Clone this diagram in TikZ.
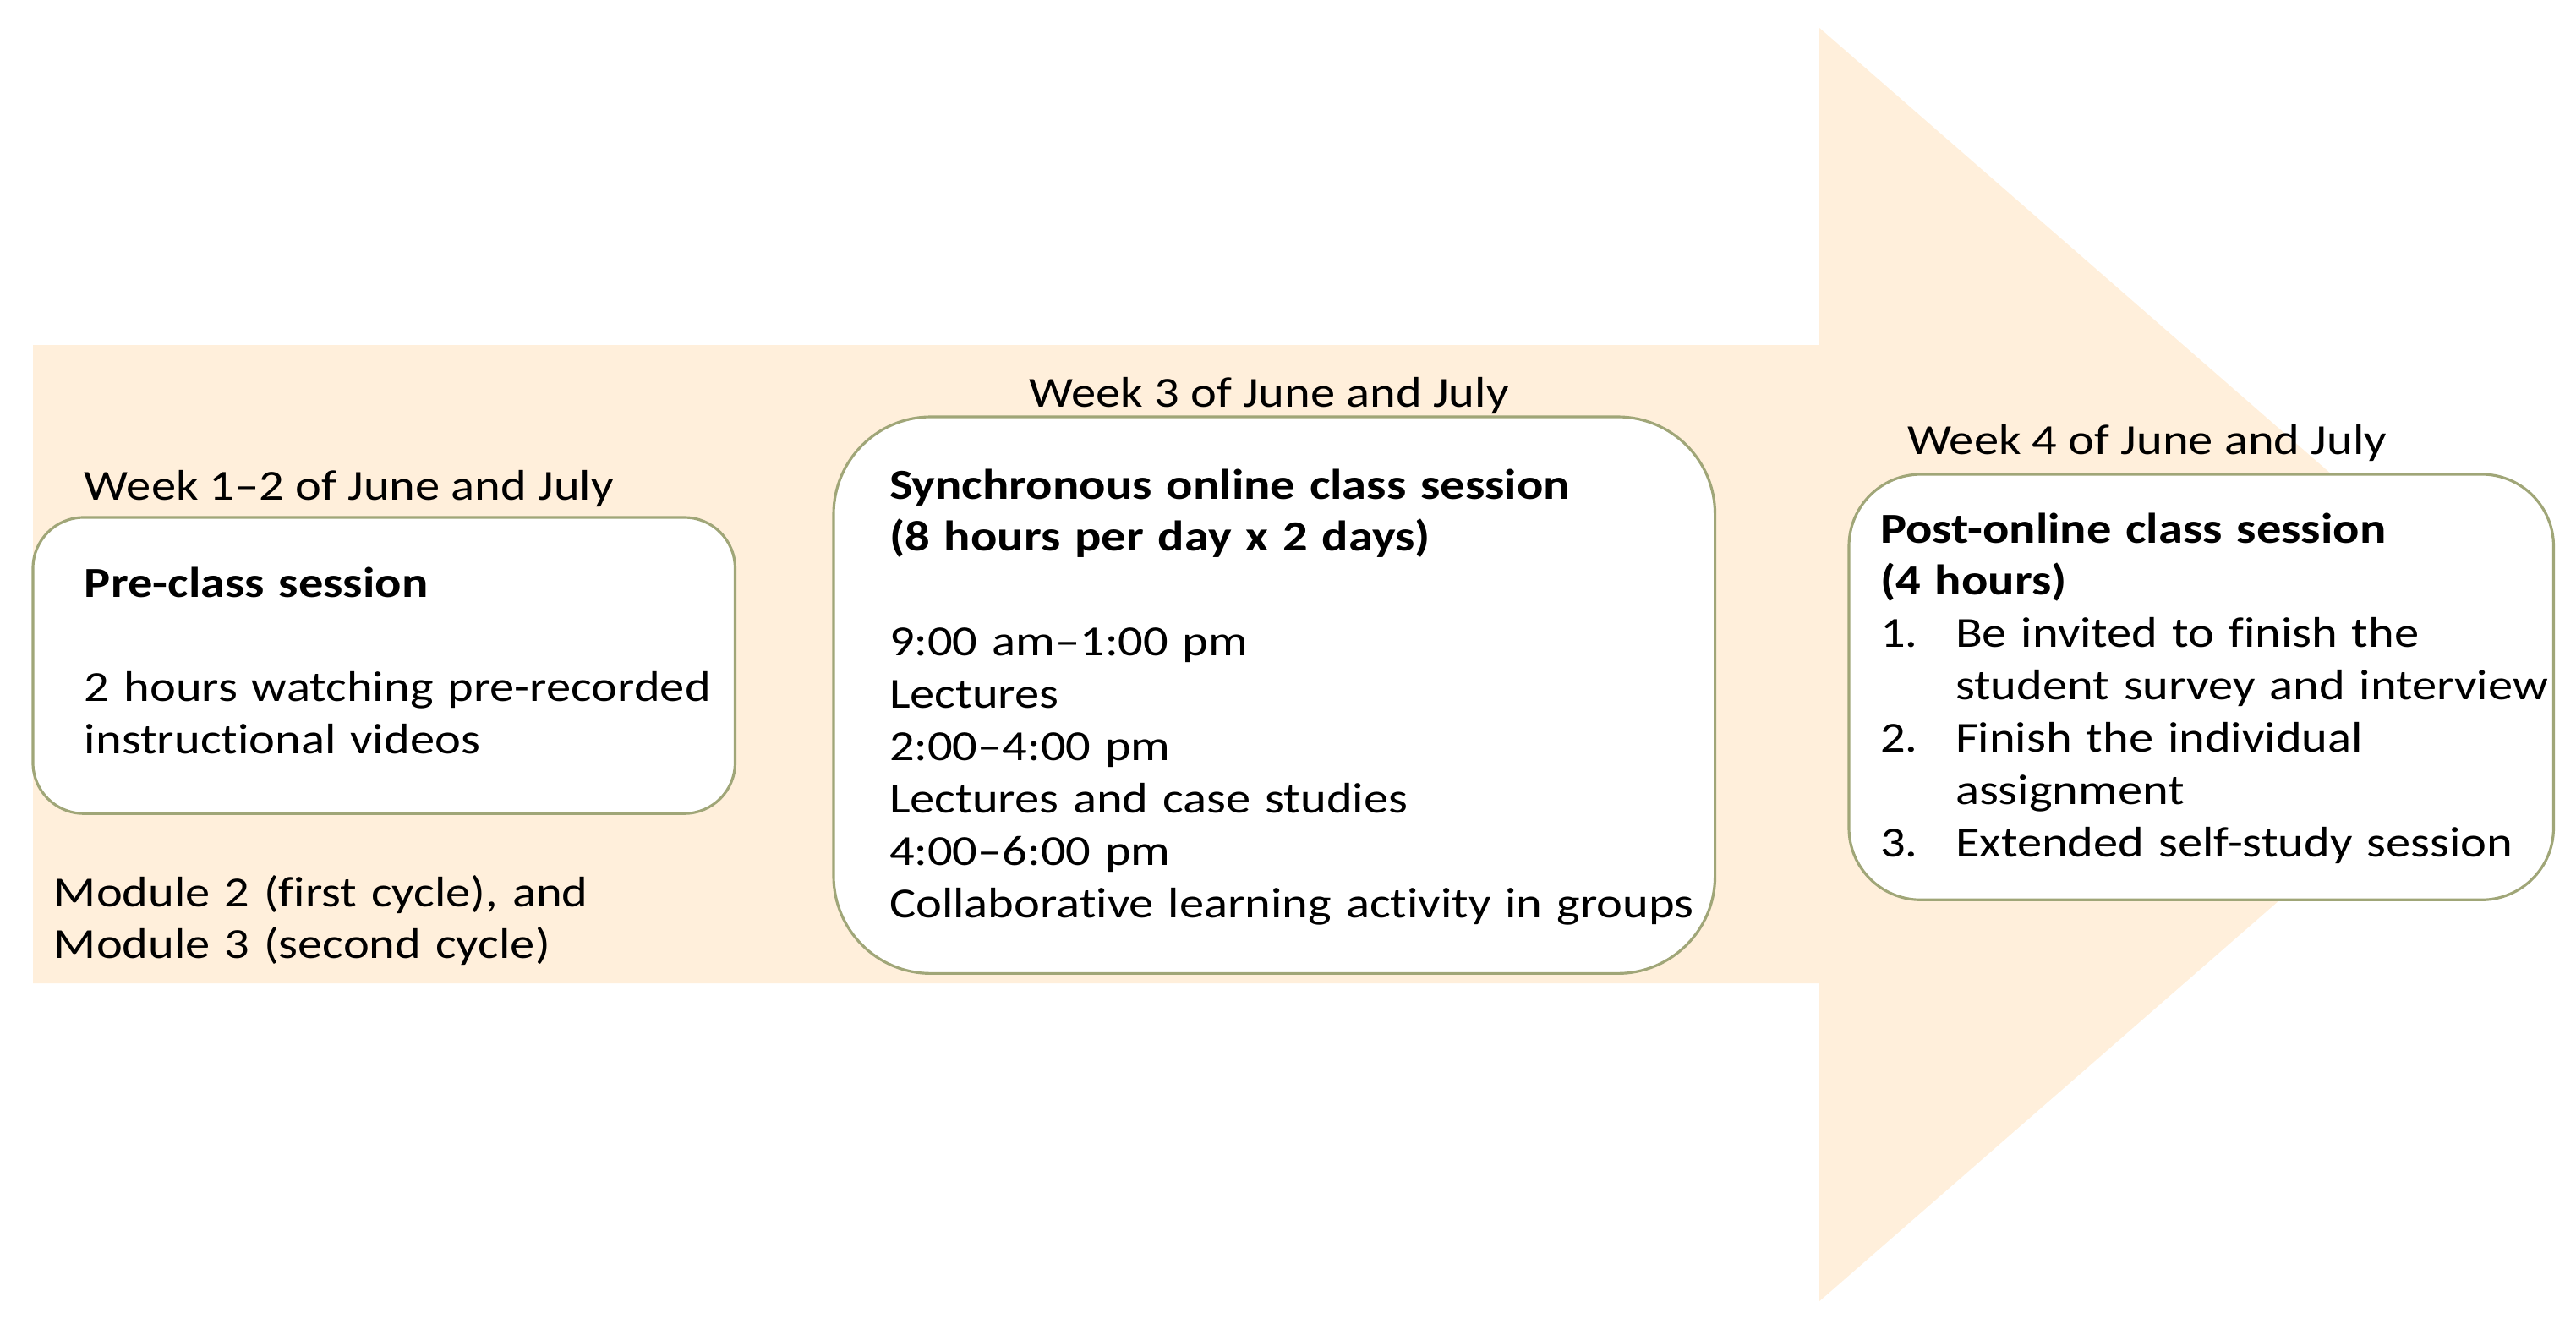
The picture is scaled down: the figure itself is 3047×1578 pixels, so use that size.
\documentclass[tikz,border=0pt]{standalone}
\usepackage{fontspec}
\setmainfont{Carlito}[FakeStretch=1.155, Ligatures={TeX,NoCommon,NoContextual}, Contextuals={NoAlternate}]
\definecolor{arrowfill}{RGB}{255,239,219}
\definecolor{boxline}{RGB}{160,166,120}
\newcommand{\stepno}[1]{\makebox[0.89cm][l]{#1}}

\begin{document}
\begin{tikzpicture}[x=0.01cm,y=-0.01cm,
  every node/.style={inner sep=0pt, outer sep=0pt, font=\fontsize{14.4pt}{17.6pt}\selectfont},
  session/.style={draw=boxline, line width=0.9pt, fill=white, anchor=north west},
  body/.style={text width=12cm, align=left, anchor=base west}]
\useasboundingbox (0,0) rectangle (3047,1578);

% big arrow behind everything
\fill[arrowfill] (39,408) -- (2151,408) -- (2151,32) -- (3016,786) -- (2151,1540) -- (2151,1163) -- (39,1163) -- cycle;

% session boxes
\node[session, rounded corners=0.6cm, minimum width=8.3cm, minimum height=3.5cm] (pre) at (39,612) {};
\node[session, rounded corners=1.15cm, minimum width=10.42cm, minimum height=6.58cm] (sync) at (986,493) {};
\node[session, rounded corners=0.85cm, minimum width=8.33cm, minimum height=5.03cm] (post) at (2187,561) {};

% week labels
\node[anchor=base west] (wkpre) at (100,591) {Week 1--2 of June and July};
\node[anchor=base] (wksync) at (1501,481) {Week 3 of June and July};
\node[anchor=base west] (wkpost) at (2256,537) {Week 4 of June and July};

% box texts
\node[body] (pretext) at (100,706) {\textbf{Pre-class session}\\[17.6pt]
  2 hours watching pre-recorded\\
  instructional videos};
\node[body] (synctext) at (1052,590) {\textbf{Synchronous online class session}\\
  \textbf{(8 hours per day x 2 days)}\\[17.6pt]
  9:00 am--1:00 pm\\
  Lectures\\
  2:00--4:00 pm\\
  Lectures and case studies\\
  4:00--6:00 pm\\
  Collaborative learning activity in groups};
\node[body] (posttext) at (2224,642) {\textbf{Post-online class session}\\
  \textbf{(4 hours)}\\
  \stepno{1.}Be invited to finish the\\
  \hspace*{0.89cm}student survey and interview\\
  \stepno{2.}Finish the individual\\
  \hspace*{0.89cm}assignment\\
  \stepno{3.}Extended self-study session};

% modules
\node[body] (modules) at (64,1072) {Module 2 (first cycle), and\\
  Module 3 (second cycle)};
\end{tikzpicture}
\end{document}
